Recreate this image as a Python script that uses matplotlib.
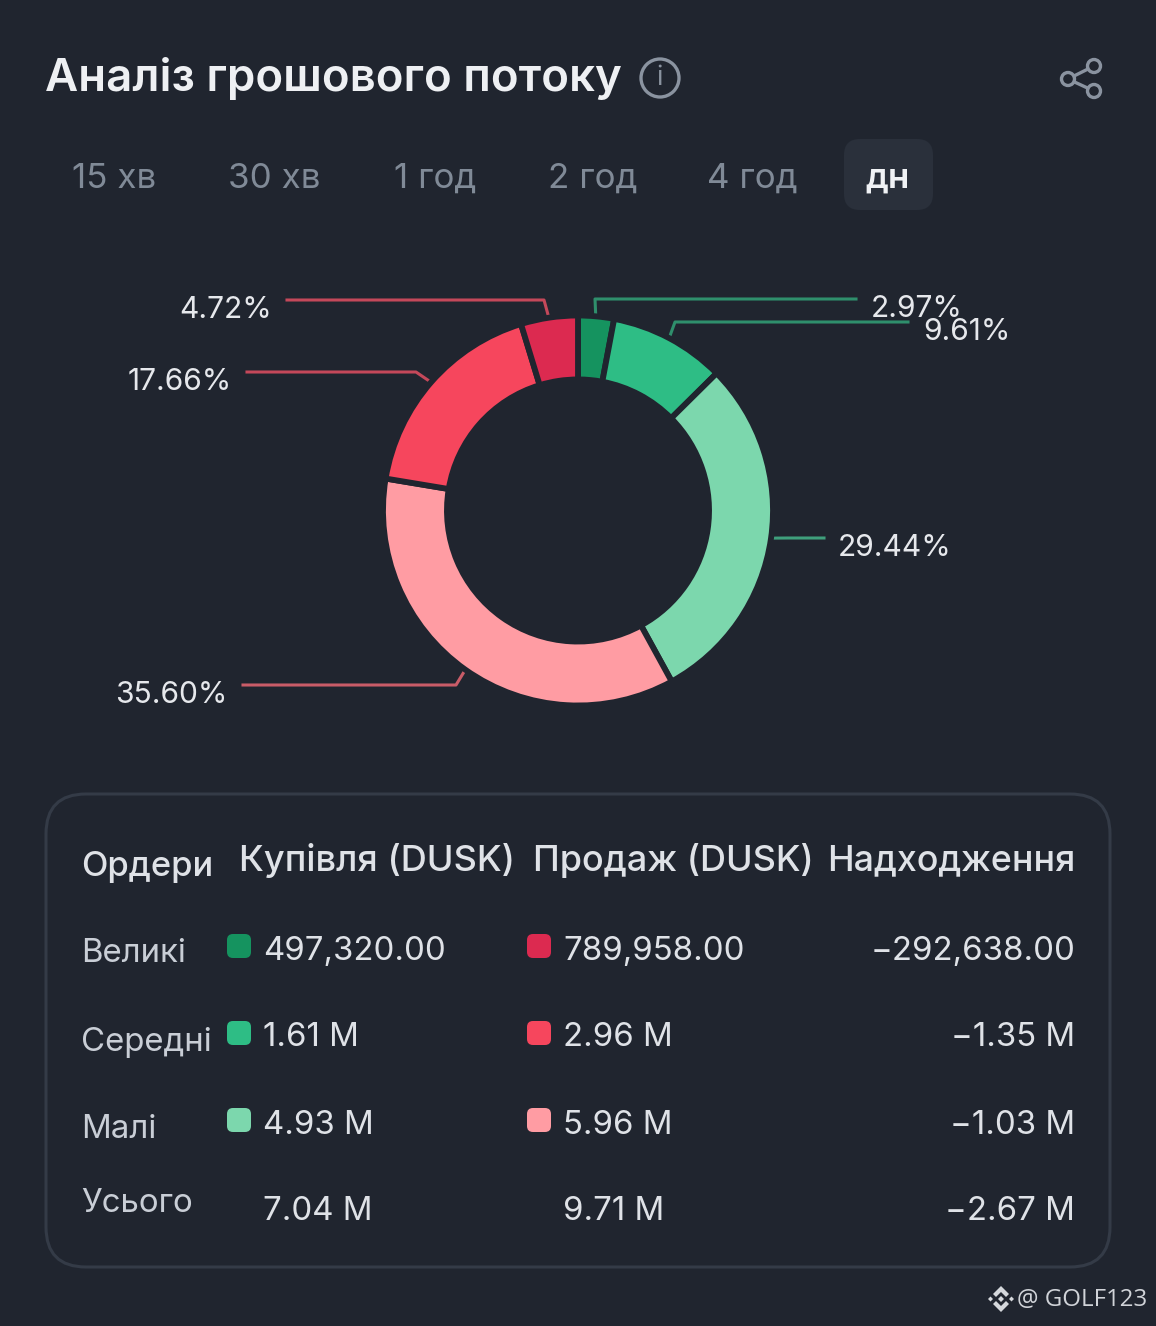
import numpy as np
import matplotlib
matplotlib.use("Agg")
import matplotlib.pyplot as plt
from matplotlib.patches import FancyBboxPatch, Circle, Polygon

W, H = 1156, 1326
BG = "#20252f"
FONT = "Inter"

title = "Аналіз грошового потоку"
tabs = ["15 хв", "30 хв", "1 год", "2 год", "4 год", "дн"]
shares = [2.97, 9.61, 29.44, 35.60, 17.66, 4.72]
share_labels = ["2.97%", "9.61%", "29.44%", "35.60%", "17.66%", "4.72%"]
slice_colors = ["#15935f", "#2ebd85", "#7cd7ad", "#ff9ca3", "#f6465d", "#dc2a50"]
line_colors = ["#2f8f6c", "#2f8f6c", "#3f9f7c", "#c95c68", "#c4485a", "#c4485a"]

headers = ["Ордери", "Купівля (DUSK)", "Продаж (DUSK)", "Надходження"]
rows = ["Великі", "Середні", "Малі", "Усього"]
buy = ["497,320.00", "1.61 M", "4.93 M", "7.04 M"]
sell = ["789,958.00", "2.96 M", "5.96 M", "9.71 M"]
net = ["-292,638.00", "-1.35 M", "-1.03 M", "-2.67 M"]
buy_colors = ["#15935f", "#2ebd85", "#7cd7ad", None]
sell_colors = ["#dc2a50", "#f6465d", "#ff9ca3", None]

fig = plt.figure(figsize=(W / 100, H / 100), dpi=100, facecolor=BG)
bg = fig.add_axes([0, 0, 1, 1])
bg.set_xlim(0, W)
bg.set_ylim(H, 0)
bg.axis("off")

def px(size):
    return size * 0.72

def T(x, y, s, size, color="#dfe2e7", ha="left", weight="normal", zorder=5):
    return bg.text(x, y + 3, s, fontsize=px(size), color=color, ha=ha, va="center",
                   family=FONT, weight=weight, zorder=zorder)

# Header
T(45, 76, title, 45.6, "#eef0f3", weight="semibold")
bg.add_patch(Circle((660, 78), 19, fc="none", ec="#8a93a0", lw=2.4))
T(660, 75, "i", 26, "#8a93a0", ha="center")
nodes = [(1094, 66), (1068, 79), (1094, 91)]
bg.plot([nodes[0][0], nodes[1][0], nodes[2][0]], [nodes[0][1], nodes[1][1], nodes[2][1]],
        color="#8a93a0", lw=2.4, zorder=3)
for n in nodes:
    bg.add_patch(Circle(n, 6.5, fc=BG, ec="#8a93a0", lw=2.4, zorder=4))

# Tabs
bg.add_patch(FancyBboxPatch((858, 153), 61, 43, boxstyle="round,pad=14,rounding_size=16",
                            fc="#2a303b", ec="none", zorder=1))
tab_x = [114, 274, 435, 593, 752, 888]
for i, (x, t) in enumerate(zip(tab_x, tabs)):
    last = i == len(tabs) - 1
    T(x, 176, t, 35, "#f0f2f5" if last else "#808a97", ha="center",
      weight="semibold" if last else "normal")

# Donut
CX, CY, R = 578, 510.5, 195
ax = fig.add_axes([(CX - R - 8) / W, 1 - (CY + R + 8) / H, (2 * R + 16) / W, (2 * R + 16) / H])
ax.pie(shares, colors=slice_colors, startangle=90, counterclock=False, radius=1,
       wedgeprops=dict(width=0.328, edgecolor=BG, linewidth=4.2))
ax.set_xlim(-(R + 8) / R, (R + 8) / R)
ax.set_ylim(-(R + 8) / R, (R + 8) / R)
ax.set_facecolor("none")

# Leader lines start at each slice's mid-angle
cum = np.cumsum(shares) - np.array(shares) / 2
ang = np.deg2rad(cum / sum(shares) * 360)
sx = CX + (R - 3) * np.sin(ang)
sy = CY - (R - 3) * np.cos(ang)
elbows = [(595, 299), (675, 322), (788, 538), (456, 685), (416, 372), (544, 300)]
ends = [(856, 299), (908, 322), (824, 538), (243, 685), (247, 372), (287, 300)]
label_pos = [(871, 306, "left"), (923, 329, "left"), (838, 545, "left"),
             (227, 692, "right"), (232, 379, "right"), (272, 307, "right")]
for i in range(len(shares)):
    bg.plot([sx[i], elbows[i][0], ends[i][0]], [sy[i], elbows[i][1], ends[i][1]],
            color=line_colors[i], lw=2.2, zorder=3, solid_joinstyle="round")
    T(label_pos[i][0], label_pos[i][1], share_labels[i], 30, "#e6e8ec", ha=label_pos[i][2])

# Table panel
bg.add_patch(FancyBboxPatch((86, 834), 984, 393, boxstyle="round,pad=40,rounding_size=40",
                            fc="none", ec="#343b47", lw=2.2, zorder=1))
T(81, 864, headers[0], 34.5, "#dfe2e7", weight="medium")
T(239, 858, headers[1], 36.2, "#dfe2e7", weight="medium")
T(533, 858, headers[2], 36, "#dfe2e7", weight="medium")
T(1075, 858, headers[3], 35.8, "#dfe2e7", ha="right", weight="medium")

row_y = [948, 1035, 1122, 1208]
label_y = [951, 1039, 1126, 1201]
for i in range(4):
    T(81, label_y[i], rows[i], 33, "#c9ced6")
    T(263, row_y[i], buy[i], 33, "#dfe2e7")
    T(563, row_y[i], sell[i], 33, "#dfe2e7")
    T(1075, row_y[i], net[i].replace("-", "\u2212"), 33, "#dfe2e7", ha="right")
    for c, x in ((buy_colors[i], 227), (sell_colors[i], 527)):
        if c:
            bg.add_patch(FancyBboxPatch((x + 6, row_y[i] - 8), 12, 12,
                                        boxstyle="round,pad=6,rounding_size=6", fc=c, ec="none", zorder=3))

# Watermark
LOGO = "#d5d8dc"
lx, ly = 1001, 1299
for pts in ([(0, -13), (8, -5), (5, -2), (0, -7), (-5, -2), (-8, -5)],
            [(0, 13), (8, 5), (5, 2), (0, 7), (-5, 2), (-8, 5)],
            [(0, -3), (3, 0), (0, 3), (-3, 0)],
            [(-13, 0), (-10.5, -2.5), (-8, 0), (-10.5, 2.5)],
            [(13, 0), (10.5, -2.5), (8, 0), (10.5, 2.5)]):
    bg.add_patch(Polygon([(lx + a, ly + b) for a, b in pts], fc=LOGO, ec="none", zorder=5))
bg.text(1147, 1300, "@ GOLF123", fontsize=px(24), color="#d0d3d8", ha="right", va="center",
        family="Open Sans", zorder=5)

fig.savefig("out.png", dpi=100, facecolor=BG)
